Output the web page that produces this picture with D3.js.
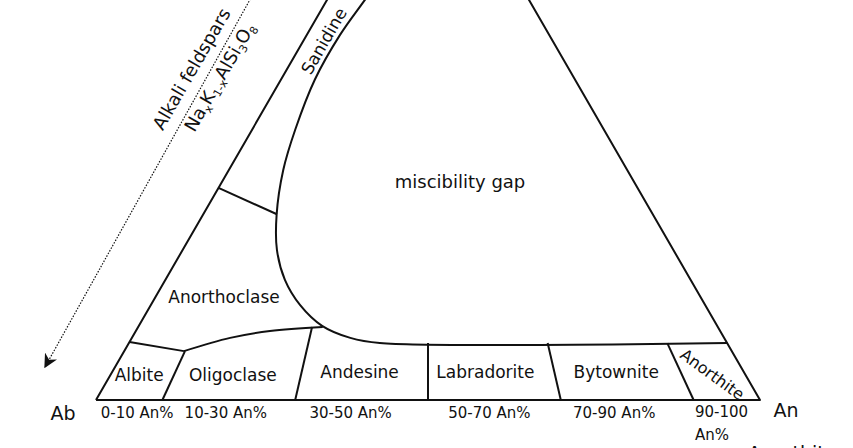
<!DOCTYPE html>
<html><head><meta charset="utf-8">
<script src="https://cdn.jsdelivr.net/npm/d3@7"></script>
<style>body{margin:0;background:#fff}text{font-family:"DejaVu Sans",sans-serif;fill:#111}</style>
</head><body><div id="chart"></div>
<script>
// ternary points as [An, Or] fractions (Ab = 1 - An - Or)
var gapCurve = [[0.901,0.099],[0.378,0.099],[0.329,0.108],[0.276,0.129],[0.225,0.165],[0.180,0.209],
  [0.142,0.261],[0.111,0.322],[0.082,0.400],[0.065,0.470],[0.051,0.557],[0.050,0.635],[0.057,0.696],[0.07,0.80],[0.09,0.90]];
var sanidineLine = [[0,0.369],[0.111,0.323]];
var anorthoclaseLine = [[0,0.101],[0.090,0.085],[0.148,0.108],[0.202,0.120],[0.278,0.127]];
var dividers = [[0.1,0.085],[0.3,0.127],[0.5,0.099],[0.7,0.099],[0.9,0.099]]; // An ratio, top Or
var ranges = ["0-10 An%","10-30 An%","30-50 An%","50-70 An%","70-90 An%"];
var names = ["Albite","Oligoclase","Andesine","Labradorite","Bytownite"];

var W = 853, H = 448;
var svg = d3.select("#chart").append("svg").attr("width", W).attr("height", H);

var x = d3.scaleLinear().domain([0,1]).range([96,760]);
var y = d3.scaleLinear().domain([0,1]).range([400,-175]);
function proj(p){ return [x(p[0] + p[1]/2), y(p[1])]; }

var line = d3.line().x(function(d){return proj(d)[0];}).y(function(d){return proj(d)[1];});
var curve = d3.line().curve(d3.curveCatmullRom).x(function(d){return proj(d)[0];}).y(function(d){return proj(d)[1];});
var g = svg.append("g").attr("fill","none").attr("stroke","#111").attr("stroke-width",2).attr("stroke-linejoin","round");

g.append("path").attr("d", line([[0,0],[1,0],[0,1],[0,0]]));
g.append("path").attr("d", curve(gapCurve));
g.append("path").attr("d", line(sanidineLine));
g.append("path").attr("d", line(anorthoclaseLine.slice(0,2)));
g.append("path").attr("d", curve(anorthoclaseLine.slice(1)));
g.selectAll(".div").data(dividers).enter().append("path")
  .attr("d", function(d){ return line([[d[0],0],[d[0]*(1-d[1]),d[1]]]); });

// dotted arrow
svg.append("defs").append("marker").attr("id","arr").attr("viewBox","0 0 10 10").attr("refX",9).attr("refY",5)
  .attr("markerWidth",14).attr("markerHeight",14).attr("orient","auto").attr("markerUnits","userSpaceOnUse")
  .append("path").attr("d","M0,0L10,5L0,10L3,5Z").attr("fill","#111");
svg.append("line").attr("x1",252).attr("y1",-4).attr("x2",45).attr("y2",367)
  .attr("stroke","#111").attr("stroke-width",1.2).attr("stroke-dasharray","1.5,1.5").attr("marker-end","url(#arr)");

function txt(s, px, py, size, rot, anchor){
  var t = svg.append("text").attr("font-size", size).attr("text-anchor", anchor || "middle")
    .attr("transform","translate("+px+","+py+")"+(rot?" rotate("+rot+")":"")).text(s);
  return t;
}
names.forEach(function(n,i){
  var a0 = i ? dividers[i-1][0] : 0, a1 = dividers[i][0];
  var cx = (x(a0)+x(a1))/2;
  txt(n, cx + [10,4,-2,-9,-11][i], [381,381,378,378,378][i], 17);
});
ranges.forEach(function(r,i){
  var a0 = i ? dividers[i-1][0] : 0, a1 = dividers[i][0];
  txt(r, (x(a0)+x(a1))/2 + [8,-3,-11,-5,-13][i], 418, 15);
});
txt("90-100", 695, 417, 15, 0, "start");
txt("An%", 695, 440, 15, 0, "start");
txt("Anorthite", 709, 379, 16, 36);
txt("Anorthoclase", 224, 303, 17);
txt("miscibility gap", 460, 188, 18);
txt("Sanidine", 329, 44, 17, -60);
txt("Ab", 63, 420, 19);
txt("An", 786, 417, 19);
txt("Anorthite", 748, 460, 19, 0, "start");
txt("Alkali feldspars", 197, 72, 18, -60);
var f = txt("", 225, 80, 18, -60);
f.append("tspan").text("Na");
f.append("tspan").attr("font-size",11).attr("dy",4).text("x");
f.append("tspan").attr("dy",-4).text("K");
f.append("tspan").attr("font-size",11).attr("dy",4).text("1-x");
f.append("tspan").attr("dy",-4).text("AlSi");
f.append("tspan").attr("font-size",11).attr("dy",4).text("3");
f.append("tspan").attr("dy",-4).text("O");
f.append("tspan").attr("font-size",11).attr("dy",4).text("8");
</script></body></html>
